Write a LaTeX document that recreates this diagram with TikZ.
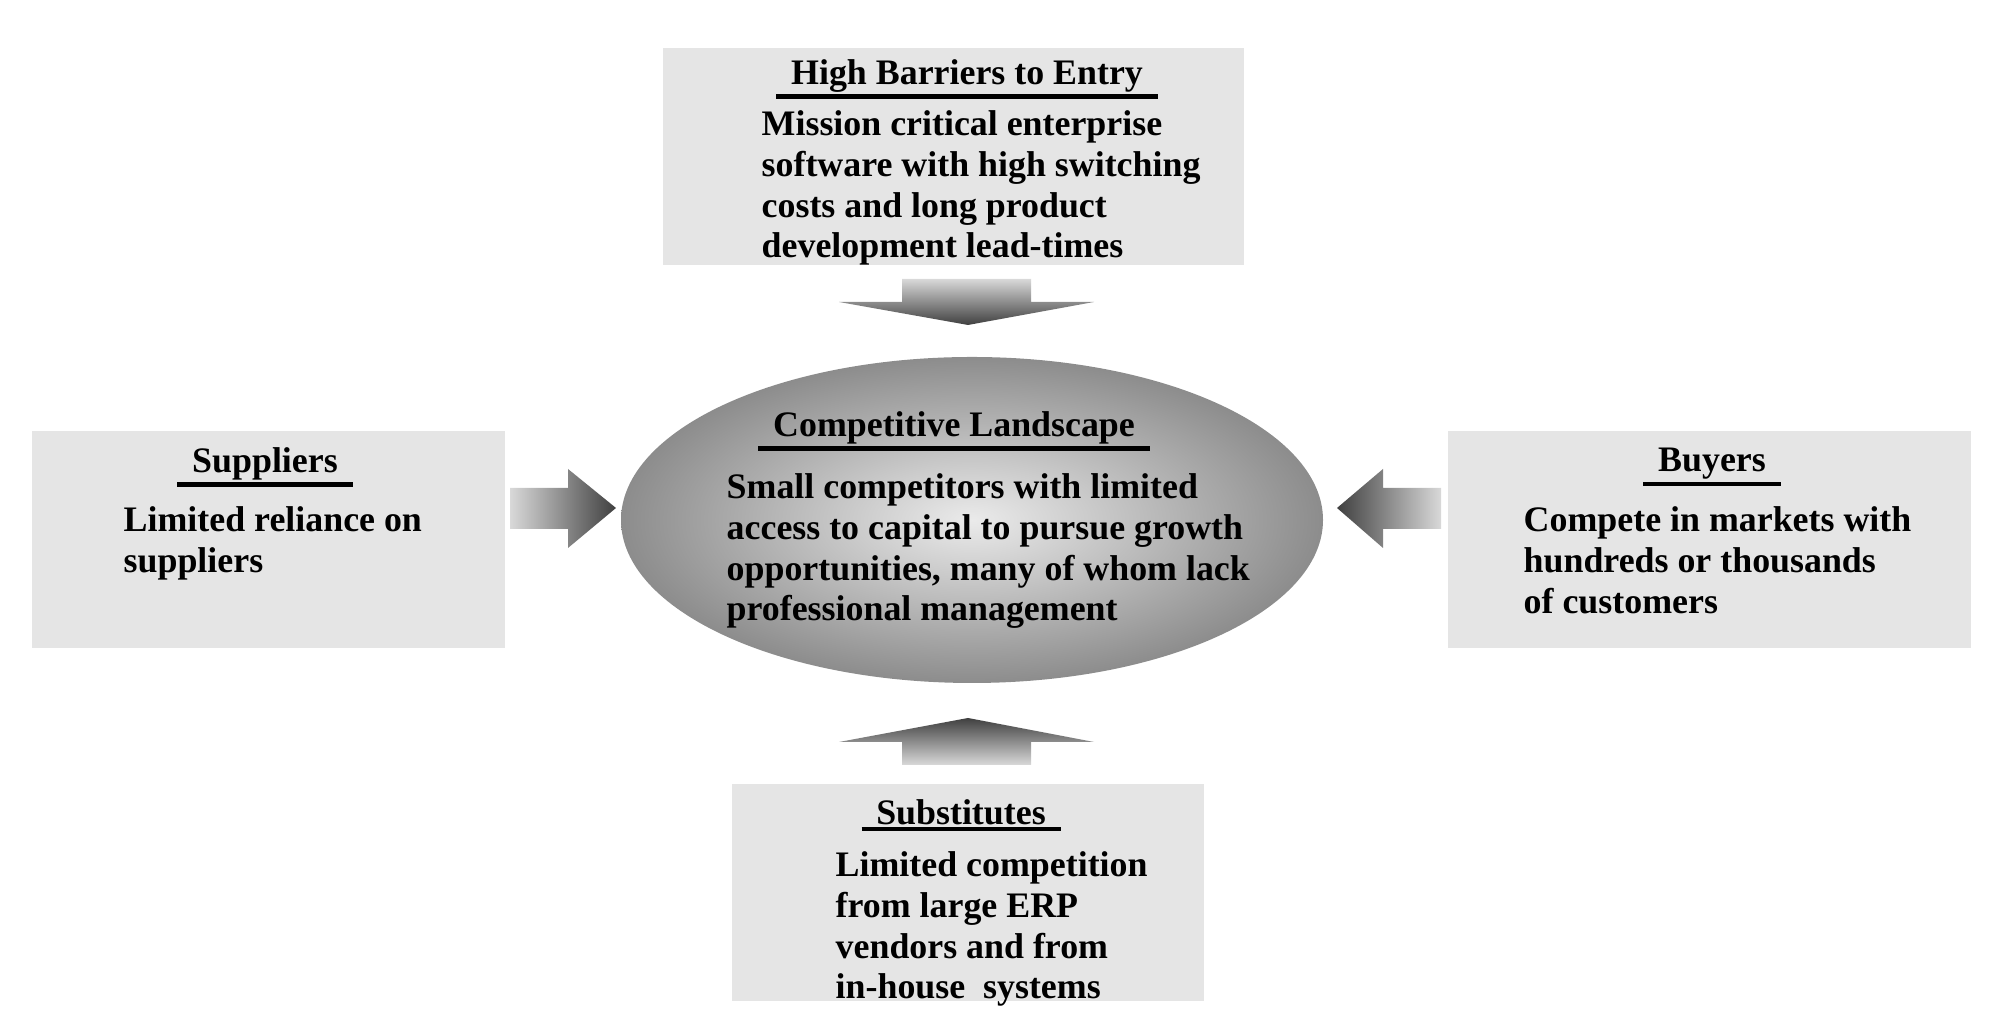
\documentclass[tikz,border=0pt]{standalone}
\usepackage{fontspec}
\setmainfont{Liberation Serif}
\usetikzlibrary{shadings}
\begin{document}
\begin{tikzpicture}[x=0.01cm,y=0.01cm,
  box/.style={fill=black!10,draw=none},
  ttl/.style={font=\bfseries\fontsize{10.2}{11}\selectfont,inner sep=1pt},
  txt/.style={font=\bfseries\fontsize{10.2}{11.6}\selectfont,align=left,anchor=north west,inner sep=0pt},
  ul/.style={line width=1.2pt}]
\useasboundingbox (0,0) rectangle (2000,1016);
% boxes
\fill[box] (663,751) rectangle (1244,968);
\fill[box] (32,368) rectangle (505,585);
\fill[box] (1448,368) rectangle (1971,585);
\fill[box] (732,15) rectangle (1204,232);
% ellipse
\shade[inner color=black!8,outer color=black!45] (972,496) ellipse (351 and 163);
% arrows
\shade[top color=black!15,bottom color=black!75] (902,737)--(1031,737)--(1031,714)--(1094,714)--(968,691)--(839,714)--(902,714)--cycle;
\shade[bottom color=black!15,top color=black!75] (902,251)--(1031,251)--(1031,274)--(1094,274)--(968,298)--(839,274)--(902,274)--cycle;
\shade[left color=black!15,right color=black!75] (510,487)--(510,528)--(568,528)--(568,547)--(616,508)--(568,468)--(568,487)--cycle;
\shade[right color=black!15,left color=black!75] (1441,487)--(1441,528)--(1383,528)--(1383,547)--(1337,508)--(1383,468)--(1383,487)--cycle;
% titles
\node[ttl] (tb) at (967,940) {High Barriers to Entry};
\draw[ul] ([xshift=-3]tb.south west)--([xshift=3]tb.south east);
\node[txt] (bb) at (761,906) {Mission critical enterprise\\software with high switching\\costs and long product\\development lead-times};
\node[ttl] (ts) at (265,552) {Suppliers};
\draw[ul] ([xshift=-3]ts.south west)--([xshift=3]ts.south east);
\node[txt] (bs) at (123,510) {Limited reliance on\\suppliers};
\node[ttl] (tr) at (1712,552) {Buyers};
\draw[ul] ([xshift=-3]tr.south west)--([xshift=3]tr.south east);
\node[txt] (br) at (1523,510) {Compete in markets with\\hundreds or thousands\\of customers};
\node[ttl] (tc) at (954,588) {Competitive Landscape};
\draw[ul] ([xshift=-3]tc.south west)--([xshift=3]tc.south east);
\node[txt] (bc) at (726,543) {Small competitors with limited\\access to capital to pursue growth\\opportunities, many of whom lack\\professional management};
\node[ttl] (tu) at (961,204) {Substitutes};
\draw[ul] ([xshift=-3]tu.south west)--([xshift=3]tu.south east);
\node[txt] (bu) at (835,165) {Limited competition\\from large ERP\\vendors and from\\in-house\ \ systems};
\end{tikzpicture}
\end{document}
